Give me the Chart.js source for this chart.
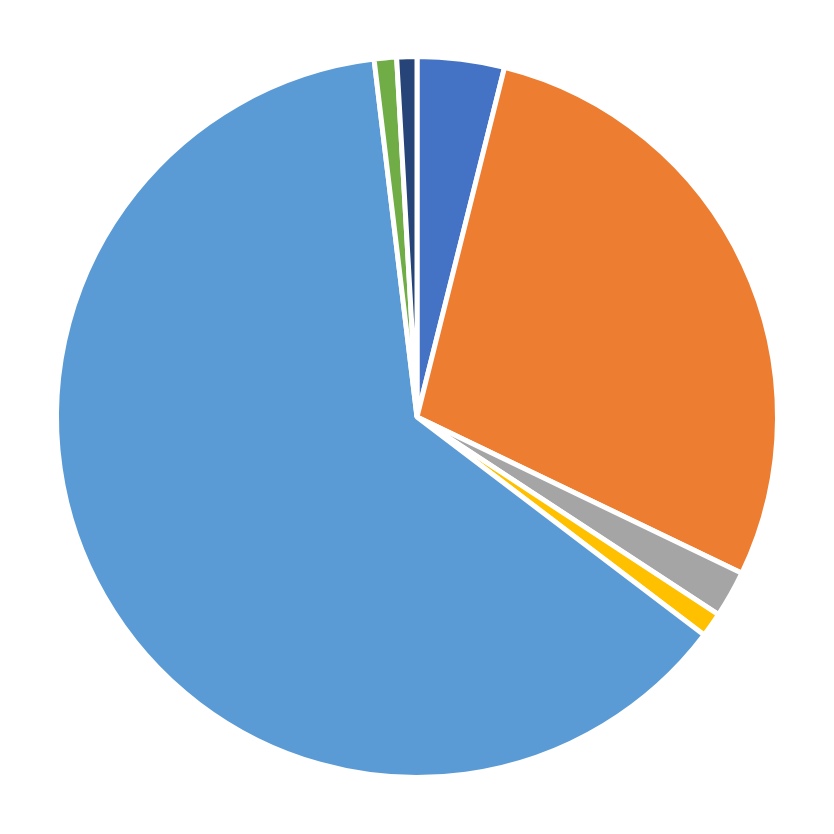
<!DOCTYPE html>
<html>
<head>
<meta charset="utf-8">
<script src="https://cdn.jsdelivr.net/npm/chart.js@4"></script>
<style>
    html, body { margin: 0; padding: 0; background: #fff; }
    #wrap { width: 834px; height: 834px; }
</style>
</head>
<body>
<div id="wrap"><canvas id="pieChart"></canvas></div>
<script>
// --- Data ---
const categories = ['A', 'B', 'C', 'D', 'E', 'F', 'G'];
const shares = [3.9, 28.2, 2.1, 1.1, 62.7, 1.0, 0.9];
const sliceColors = ['#4472C4', '#ED7D31', '#A5A5A5', '#FFC000', '#5B9BD5', '#70AD47', '#264478'];

const ctx = document.getElementById('pieChart').getContext('2d');

new Chart(ctx, {
    type: 'pie',
    data: {
        labels: categories,
        datasets: [{
            data: shares,
            backgroundColor: sliceColors,
            borderColor: '#ffffff',
            borderWidth: 5
        }]
    },
    options: {
        responsive: true,
        maintainAspectRatio: false,
        animation: false,
        layout: { padding: 54 },
        plugins: {
            legend: { display: false },
            tooltip: { enabled: false }
        }
    }
});
</script>
</body>
</html>
